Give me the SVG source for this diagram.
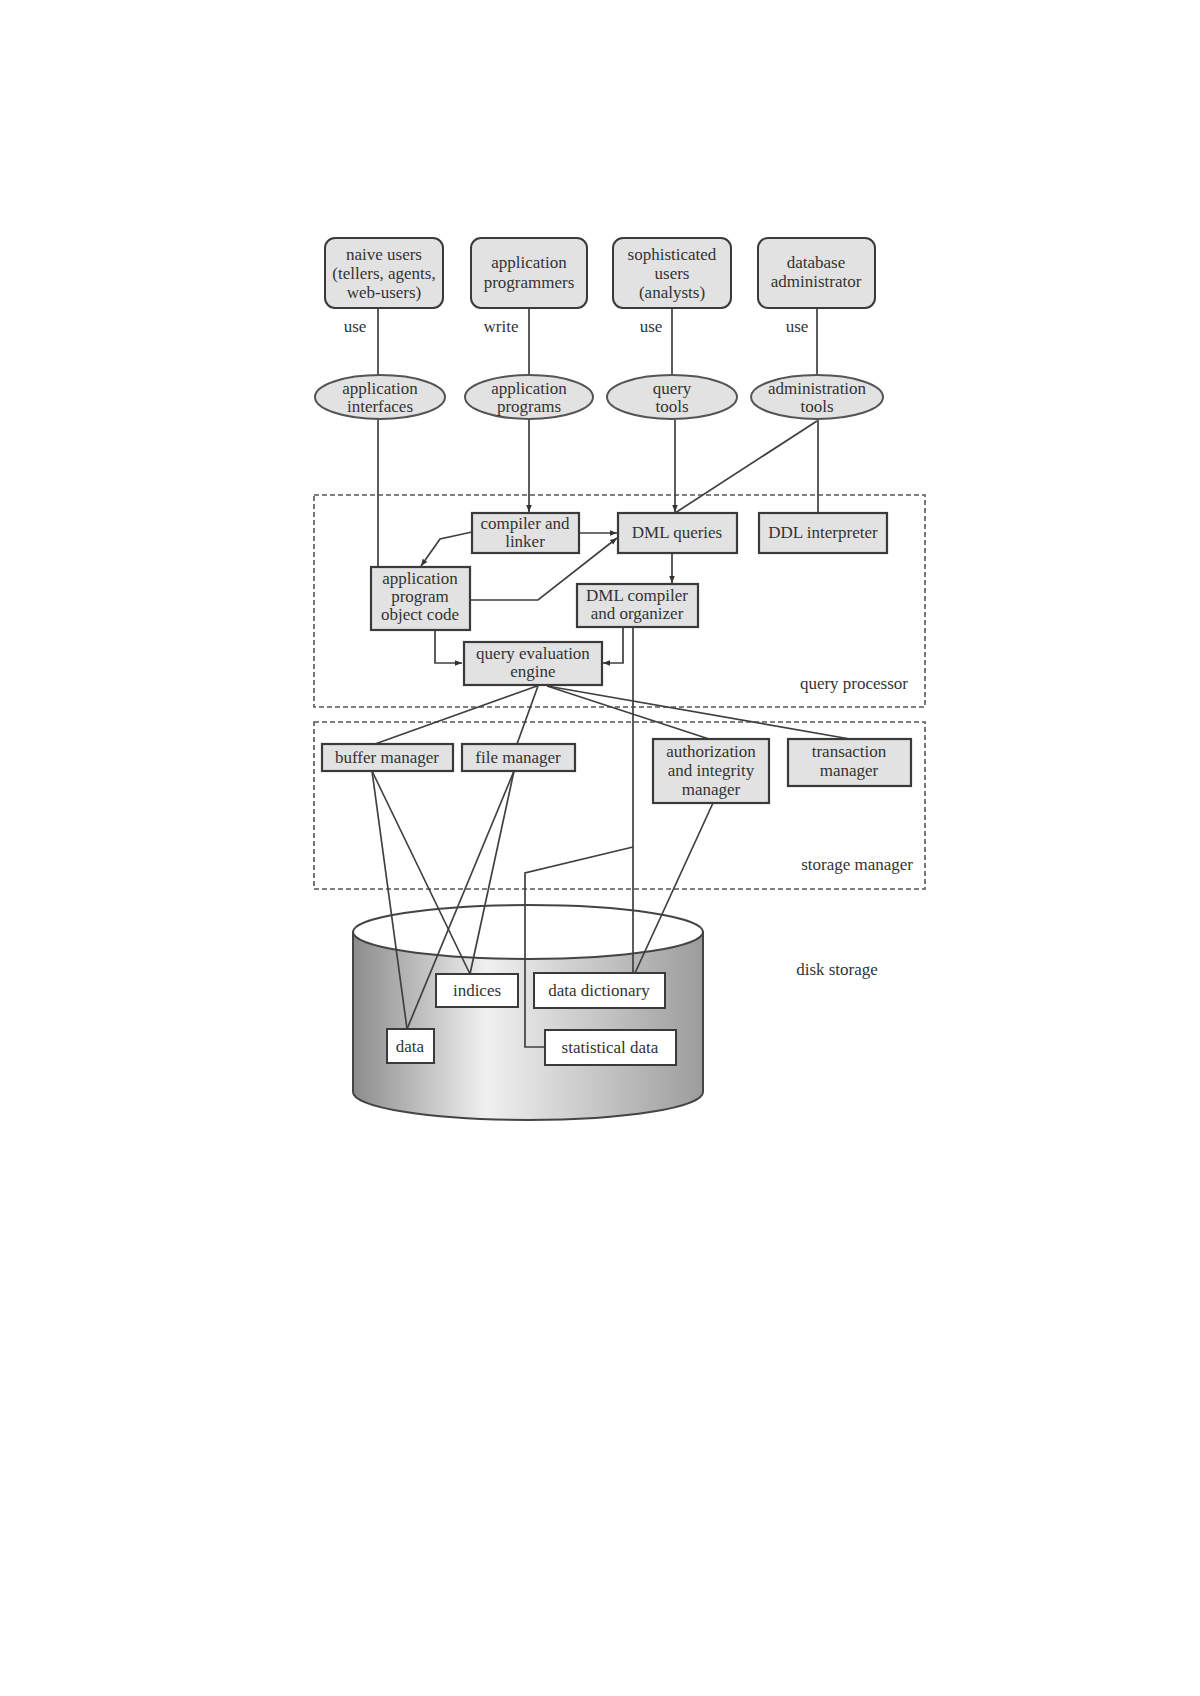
<svg xmlns="http://www.w3.org/2000/svg" width="1200" height="1696" viewBox="0 0 1200 1696">
<defs>
<marker id="arr" viewBox="0 0 10 10" refX="10" refY="5" markerWidth="7" markerHeight="7" orient="auto" markerUnits="userSpaceOnUse">
<path d="M0,1 L10,5 L0,9 Z" fill="#333"/>
</marker>
<linearGradient id="cyl" x1="0" y1="0" x2="1" y2="0">
<stop offset="0" stop-color="#8c8c8c"/>
<stop offset="0.38" stop-color="#f0f0f0"/>
<stop offset="0.7" stop-color="#c6c6c6"/>
<stop offset="1" stop-color="#9c9c9c"/>
</linearGradient>
<style>
text{font-family:"Liberation Serif","DejaVu Serif",serif;font-size:17px;fill:#333;text-anchor:middle}
.rbox{fill:#e2e2e2;stroke:#3a3a3a;stroke-width:2}
.box{fill:#e2e2e2;stroke:#3a3a3a;stroke-width:2.2}
.wbox{fill:#fff;stroke:#3a3a3a;stroke-width:2}
.ell{fill:#e2e2e2;stroke:#555;stroke-width:2}
.dash{fill:none;stroke:#555;stroke-width:1.6;stroke-dasharray:5 3}
.c{fill:none;stroke:#404040;stroke-width:1.7}
.ca{fill:none;stroke:#404040;stroke-width:1.7;marker-end:url(#arr)}
</style>
</defs>
<rect width="1200" height="1696" fill="#fff"/>

<g id="query-processor">
<rect class="dash" x="314" y="495" width="611" height="212"/>
<text x="908" y="689" style="text-anchor:end">query processor</text>
</g>
<g id="storage-manager">
<rect class="dash" x="314" y="722" width="611" height="167"/>
<text x="913" y="870" style="text-anchor:end">storage manager</text>
</g>

<g id="disk-storage">
<path d="M353,932 L353,1092 A175,28 0 0 0 703,1092 L703,932 Z" fill="url(#cyl)" stroke="#444" stroke-width="2"/>
<ellipse cx="528" cy="932" rx="175" ry="27" fill="#fff" stroke="#444" stroke-width="2"/>
<text x="837" y="975">disk storage</text>
</g>

<g id="connectors">
<line class="c" x1="378" y1="308" x2="378" y2="375"/>
<line class="c" x1="529" y1="308" x2="529" y2="374"/>
<line class="c" x1="672" y1="308" x2="672" y2="375"/>
<line class="c" x1="817" y1="308" x2="817" y2="375"/>
<line class="c" x1="378" y1="420" x2="378" y2="567"/>
<line class="ca" x1="529" y1="420" x2="529" y2="512"/>
<line class="ca" x1="675" y1="420" x2="675" y2="512"/>
<line class="c" x1="817" y1="421" x2="675" y2="513"/>
<line class="c" x1="818" y1="420" x2="818" y2="513"/>
<line class="ca" x1="580" y1="533" x2="617" y2="533"/>
<polyline class="ca" points="472,532 440,539 421,566"/>
<polyline class="ca" points="470,600 538,600 617,538"/>
<line class="ca" x1="672" y1="553" x2="672" y2="583"/>
<polyline class="ca" points="435,630 435,663 462,663"/>
<polyline class="ca" points="623,627 623,663 603,663"/>
<line class="c" x1="633" y1="627" x2="633" y2="973"/>
<polyline class="c" points="633,847 525,873 525,1047 545,1047"/>
<line class="c" x1="537" y1="686" x2="375" y2="744"/>
<line class="c" x1="538" y1="686" x2="517" y2="744"/>
<line class="c" x1="547" y1="686" x2="709" y2="739"/>
<line class="c" x1="547" y1="686" x2="850" y2="739"/>
<line class="c" x1="372" y1="771" x2="407" y2="1029"/>
<line class="c" x1="372" y1="771" x2="470" y2="974"/>
<line class="c" x1="514" y1="771" x2="407" y2="1029"/>
<line class="c" x1="514" y1="771" x2="470" y2="974"/>
<line class="c" x1="713" y1="803" x2="635" y2="973"/>
</g>

<g id="naive-users">
<rect class="rbox" x="325" y="238" width="118" height="70" rx="10"/>
<text x="384" y="260">naive users</text>
<text x="384" y="279">(tellers, agents,</text>
<text x="384" y="298">web-users)</text>
</g>
<g id="application-programmers">
<rect class="rbox" x="471" y="238" width="116" height="70" rx="10"/>
<text x="529" y="268">application</text>
<text x="529" y="288">programmers</text>
</g>
<g id="sophisticated-users">
<rect class="rbox" x="613" y="238" width="118" height="70" rx="10"/>
<text x="672" y="260">sophisticated</text>
<text x="672" y="279">users</text>
<text x="672" y="298">(analysts)</text>
</g>
<g id="database-administrator">
<rect class="rbox" x="758" y="238" width="117" height="70" rx="10"/>
<text x="816" y="268">database</text>
<text x="816" y="287">administrator</text>
</g>

<g id="label-use-1"><text x="355" y="332">use</text></g>
<g id="label-write"><text x="501" y="332">write</text></g>
<g id="label-use-2"><text x="651" y="332">use</text></g>
<g id="label-use-3"><text x="797" y="332">use</text></g>

<g id="application-interfaces">
<ellipse class="ell" cx="380" cy="397" rx="65" ry="22"/>
<text x="380" y="394">application</text>
<text x="380" y="412">interfaces</text>
</g>
<g id="application-programs">
<ellipse class="ell" cx="529" cy="397" rx="64" ry="22"/>
<text x="529" y="394">application</text>
<text x="529" y="412">programs</text>
</g>
<g id="query-tools">
<ellipse class="ell" cx="672" cy="397" rx="65" ry="22"/>
<text x="672" y="394">query</text>
<text x="672" y="412">tools</text>
</g>
<g id="administration-tools">
<ellipse class="ell" cx="817" cy="397" rx="66" ry="22"/>
<text x="817" y="394">administration</text>
<text x="817" y="412">tools</text>
</g>

<g id="compiler-linker">
<rect class="box" x="472" y="513" width="107" height="40"/>
<text x="525" y="529">compiler and</text>
<text x="525" y="547">linker</text>
</g>
<g id="dml-queries">
<rect class="box" x="618" y="513" width="119" height="40"/>
<text x="677" y="538">DML queries</text>
</g>
<g id="ddl-interpreter">
<rect class="box" x="759" y="513" width="128" height="40"/>
<text x="823" y="538">DDL interpreter</text>
</g>
<g id="object-code">
<rect class="box" x="371" y="567" width="99" height="63"/>
<text x="420" y="584">application</text>
<text x="420" y="602">program</text>
<text x="420" y="620">object code</text>
</g>
<g id="dml-compiler">
<rect class="box" x="577" y="584" width="121" height="43"/>
<text x="637" y="601">DML compiler</text>
<text x="637" y="619">and organizer</text>
</g>
<g id="query-evaluation-engine">
<rect class="box" x="464" y="642" width="138" height="43"/>
<text x="533" y="659">query evaluation</text>
<text x="533" y="677">engine</text>
</g>

<g id="buffer-manager">
<rect class="box" x="322" y="744" width="131" height="27"/>
<text x="387" y="763">buffer manager</text>
</g>
<g id="file-manager">
<rect class="box" x="462" y="744" width="113" height="27"/>
<text x="518" y="763">file manager</text>
</g>
<g id="authorization-integrity-manager">
<rect class="box" x="653" y="739" width="116" height="64"/>
<text x="711" y="757">authorization</text>
<text x="711" y="776">and integrity</text>
<text x="711" y="795">manager</text>
</g>
<g id="transaction-manager">
<rect class="box" x="788" y="739" width="123" height="47"/>
<text x="849" y="757">transaction</text>
<text x="849" y="776">manager</text>
</g>

<g id="indices">
<rect class="wbox" x="436" y="974" width="82" height="33"/>
<text x="477" y="996">indices</text>
</g>
<g id="data-dictionary">
<rect class="wbox" x="534" y="973" width="131" height="35"/>
<text x="599" y="996">data dictionary</text>
</g>
<g id="data">
<rect class="wbox" x="387" y="1029" width="47" height="34"/>
<text x="410" y="1052">data</text>
</g>
<g id="statistical-data">
<rect class="wbox" x="545" y="1030" width="131" height="35"/>
<text x="610" y="1053">statistical data</text>
</g>
</svg>
